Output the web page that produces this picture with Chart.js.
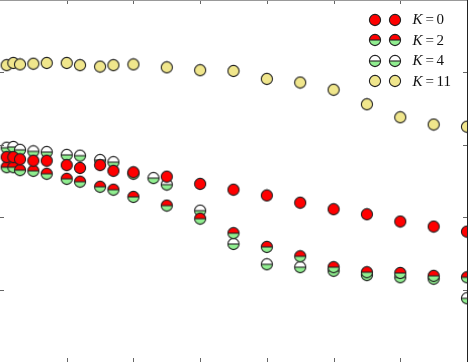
<!DOCTYPE html>
<html>
<head>
<meta charset="utf-8">
<script src="https://cdn.jsdelivr.net/npm/chart.js@4"></script>
<style>
  html, body { margin: 0; padding: 0; background: #fff; }
  canvas { display: block; }
</style>
</head>
<body>
<canvas id="grafico" width="474" height="362"></canvas>
<script>
// valores
const xValores = [1, 2, 3, 5, 7, 10, 12, 15, 17, 20, 25, 30, 35, 40, 45, 50, 55, 60, 65, 70];
const xValoresK4 = [1, 2, 3, 5, 7, 10, 12, 15, 17, 20, 23, 25, 30, 35, 40, 45, 50, 55, 60, 65, 70];

const valoresK0 = [2.83, 2.83, 2.80, 2.78, 2.78, 2.72, 2.68, 2.72, 2.64, 2.62, 2.56, 2.46, 2.38, 2.30, 2.20, 2.11, 2.04, 1.94, 1.87, 1.80];
const valoresK2 = [2.69, 2.69, 2.65, 2.64, 2.60, 2.53, 2.49, 2.42, 2.38, 2.28, 2.16, 1.98, 1.78, 1.59, 1.46, 1.31, 1.24, 1.23, 1.19, 1.17];
const valoresK4 = [2.96, 2.97, 2.93, 2.91, 2.90, 2.86, 2.85, 2.79, 2.76, 2.60, 2.54, 2.45, 2.09, 1.63, 1.35, 1.31, 1.26, 1.20, 1.17, 1.15, 0.88];
const valoresK11 = [4.10, 4.13, 4.11, 4.12, 4.13, 4.13, 4.10, 4.08, 4.10, 4.11, 4.07, 4.03, 4.02, 3.91, 3.86, 3.76, 3.56, 3.38, 3.28, 3.25];

const etiquetasK = ['0', '2', '4', '11'];
const ticksX = [10, 20, 30, 40, 50, 60];
const ticksY = [1, 2, 3, 4];

// marcador circular, mitad superior y mitad inferior
function crearMarcador(arriba, abajo) {
    const c = document.createElement('canvas');
    c.width = 14;
    c.height = 14;
    const ctx = c.getContext('2d');
    const r = 5.6;
    ctx.beginPath();
    ctx.arc(7, 7, r, Math.PI, 2 * Math.PI);
    ctx.closePath();
    ctx.fillStyle = arriba;
    ctx.fill();
    ctx.beginPath();
    ctx.arc(7, 7, r, 0, Math.PI);
    ctx.closePath();
    ctx.fillStyle = abajo;
    ctx.fill();
    ctx.strokeStyle = '#222';
    ctx.lineWidth = 1.1;
    if (arriba !== abajo) {
        ctx.beginPath();
        ctx.moveTo(7 - r, 7);
        ctx.lineTo(7 + r, 7);
        ctx.stroke();
    }
    ctx.beginPath();
    ctx.arc(7, 7, r, 0, 2 * Math.PI);
    ctx.stroke();
    return c;
}

const marcadores = [
    crearMarcador('#ff0000', '#ff0000'),
    crearMarcador('#ff0000', '#90ee90'),
    crearMarcador('#ffffff', '#90ee90'),
    crearMarcador('#f0e68c', '#f0e68c')
];

function puntos(xs, ys) {
    return xs.map((x, i) => ({ x: x, y: ys[i] }));
}

// ticks hacia adentro, marco y leyenda
const decoracion = {
    id: 'decoracion',
    afterDraw(chart) {
        const ctx = chart.ctx;
        const area = chart.chartArea;
        const sx = chart.scales.x;
        const sy = chart.scales.y;
        ctx.save();
        ctx.strokeStyle = '#666';
        ctx.lineWidth = 1;
        ctx.beginPath();
        ticksX.forEach(v => {
            const px = Math.round(sx.getPixelForValue(v)) + 0.5;
            ctx.moveTo(px, area.top);
            ctx.lineTo(px, area.top + 4);
            ctx.moveTo(px, area.bottom);
            ctx.lineTo(px, area.bottom - 4);
        });
        ticksY.forEach(v => {
            const py = Math.round(sy.getPixelForValue(v)) + 0.5;
            ctx.moveTo(area.left, py);
            ctx.lineTo(area.left + 4, py);
            ctx.moveTo(area.right, py);
            ctx.lineTo(area.right - 4, py);
        });
        ctx.stroke();

        ctx.strokeStyle = '#999';
        ctx.beginPath();
        ctx.moveTo(area.left, area.top + 0.5);
        ctx.lineTo(area.right, area.top + 0.5);
        ctx.stroke();
        ctx.strokeStyle = '#222';
        ctx.beginPath();
        ctx.moveTo(Math.round(area.right) + 0.5, area.top);
        ctx.lineTo(Math.round(area.right) + 0.5, area.bottom);
        ctx.stroke();

        // leyenda con dos marcadores por serie
        ctx.fillStyle = '#111';
        ctx.textBaseline = 'middle';
        chart.data.datasets.forEach((ds, i) => {
            const y = 19.5 + i * 20.5;
            const img = ds.pointStyle;
            ctx.drawImage(img, 375 - 7, Math.round(y) - 7);
            ctx.drawImage(img, 395 - 7, Math.round(y) - 7);
            ctx.font = 'italic 15px "Liberation Serif"';
            ctx.fillText('K', 412.5, y + 1);
            ctx.font = '15px "Liberation Serif"';
            ctx.fillText('=', 425.5, y + 1);
            ctx.fillText(etiquetasK[i], 436.5, y + 1);
        });
        ctx.restore();
    }
};

const lienzo = document.getElementById('grafico');
new Chart(lienzo.getContext('2d'), {
    type: 'scatter',
    data: {
        datasets: [
            { label: 'K=0', data: puntos(xValores, valoresK0), pointStyle: marcadores[0] },
            { label: 'K=2', data: puntos(xValores, valoresK2), pointStyle: marcadores[1] },
            { label: 'K=4', data: puntos(xValoresK4, valoresK4), pointStyle: marcadores[2] },
            { label: 'K=11', data: puntos(xValores, valoresK11), pointStyle: marcadores[3] }
        ].map(ds => Object.assign(ds, { pointRadius: 6, clip: 0 }))
    },
    options: {
        responsive: false,
        animation: false,
        devicePixelRatio: 1,
        layout: { autoPadding: false, padding: { left: 0, right: 7, top: 0, bottom: 0 } },
        plugins: {
            legend: { display: false },
            tooltip: { enabled: false }
        },
        scales: {
            x: {
                type: 'linear',
                min: 0,
                max: 70,
                ticks: { display: false, stepSize: 10 },
                grid: { display: false, drawTicks: false },
                border: { display: false },
                afterFit: (escala) => { escala.height = 0; }
            },
            y: {
                type: 'linear',
                min: 0,
                max: 5,
                ticks: { display: false, stepSize: 1 },
                grid: { display: false, drawTicks: false },
                border: { display: false },
                afterFit: (escala) => { escala.width = 0; }
            }
        }
    },
    plugins: [decoracion]
});
</script>
</body>
</html>
